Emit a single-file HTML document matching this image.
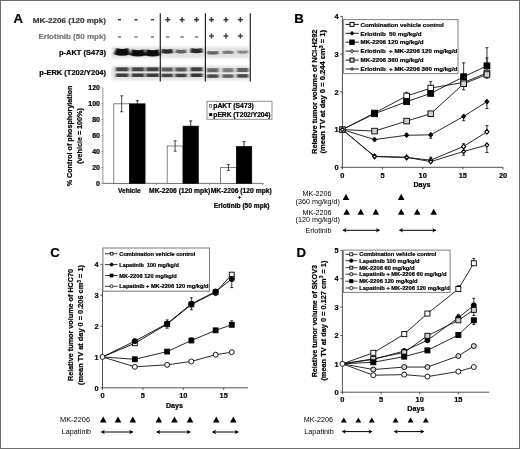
<!DOCTYPE html>
<html><head><meta charset="utf-8"><title>Figure</title>
<style>
html,body{margin:0;padding:0;background:#fff;}
body{width:520px;height:449px;overflow:hidden;position:relative;font-family:"Liberation Sans",Arial,sans-serif;}
#frame{position:absolute;left:0;top:0;width:518px;height:447px;border:1px solid #6e6e6e;}
svg{position:absolute;left:0;top:0;display:block;filter:blur(0.35px);}
svg text{font-family:"Liberation Sans",Arial,sans-serif;}
</style></head><body>
<svg width="520" height="449" viewBox="0 0 520 449">
<defs>
<filter id="b1" x="-5%" y="-20%" width="110%" height="140%"><feGaussianBlur stdDeviation="0.8"/></filter>
<filter id="b2" x="-5%" y="-20%" width="110%" height="140%"><feGaussianBlur stdDeviation="1.0 0.75"/></filter>
</defs>
<text x="13.60" y="23.20" font-size="13.2" text-anchor="start" fill="#000" font-weight="bold" stroke="#000" stroke-width="0.22" >A</text>
<text x="106.00" y="22.80" font-size="8.1" text-anchor="end" fill="#3a3a3a" font-weight="bold" stroke="#3a3a3a" stroke-width="0.22" >MK-2206 (120 mpk)</text>
<text x="106.00" y="38.50" font-size="8.0" text-anchor="end" fill="#747474" font-weight="bold" stroke="#747474" stroke-width="0.22" >Erlotinib (50 mpk)</text>
<text x="106.00" y="55.40" font-size="7.5" text-anchor="end" fill="#000" font-weight="bold" stroke="#000" stroke-width="0.22" >p-AKT (S473)</text>
<text x="106.00" y="75.30" font-size="7.5" text-anchor="end" fill="#000" font-weight="bold" stroke="#000" stroke-width="0.22" >p-ERK (T202/Y204)</text>
<line x1="117.90" y1="19.70" x2="121.10" y2="19.70" stroke="#3a3a3a" stroke-width="1.5" />
<line x1="117.90" y1="37.00" x2="121.10" y2="37.00" stroke="#747474" stroke-width="1.5" />
<line x1="134.40" y1="19.70" x2="137.60" y2="19.70" stroke="#3a3a3a" stroke-width="1.5" />
<line x1="134.40" y1="37.00" x2="137.60" y2="37.00" stroke="#747474" stroke-width="1.5" />
<line x1="150.80" y1="19.70" x2="154.00" y2="19.70" stroke="#3a3a3a" stroke-width="1.5" />
<line x1="150.80" y1="37.00" x2="154.00" y2="37.00" stroke="#747474" stroke-width="1.5" />
<line x1="165.20" y1="19.70" x2="170.20" y2="19.70" stroke="#3a3a3a" stroke-width="1.5" />
<line x1="167.70" y1="17.20" x2="167.70" y2="22.20" stroke="#3a3a3a" stroke-width="1.5" />
<line x1="166.10" y1="37.00" x2="169.30" y2="37.00" stroke="#747474" stroke-width="1.5" />
<line x1="179.60" y1="19.70" x2="184.60" y2="19.70" stroke="#3a3a3a" stroke-width="1.5" />
<line x1="182.10" y1="17.20" x2="182.10" y2="22.20" stroke="#3a3a3a" stroke-width="1.5" />
<line x1="180.50" y1="37.00" x2="183.70" y2="37.00" stroke="#747474" stroke-width="1.5" />
<line x1="194.00" y1="19.70" x2="199.00" y2="19.70" stroke="#3a3a3a" stroke-width="1.5" />
<line x1="196.50" y1="17.20" x2="196.50" y2="22.20" stroke="#3a3a3a" stroke-width="1.5" />
<line x1="194.90" y1="37.00" x2="198.10" y2="37.00" stroke="#747474" stroke-width="1.5" />
<line x1="209.00" y1="19.70" x2="214.00" y2="19.70" stroke="#3a3a3a" stroke-width="1.5" />
<line x1="211.50" y1="17.20" x2="211.50" y2="22.20" stroke="#3a3a3a" stroke-width="1.5" />
<line x1="209.00" y1="36.00" x2="214.00" y2="36.00" stroke="#444" stroke-width="1.5" />
<line x1="211.50" y1="33.50" x2="211.50" y2="38.50" stroke="#444" stroke-width="1.5" />
<line x1="223.50" y1="19.70" x2="228.50" y2="19.70" stroke="#3a3a3a" stroke-width="1.5" />
<line x1="226.00" y1="17.20" x2="226.00" y2="22.20" stroke="#3a3a3a" stroke-width="1.5" />
<line x1="223.50" y1="36.00" x2="228.50" y2="36.00" stroke="#444" stroke-width="1.5" />
<line x1="226.00" y1="33.50" x2="226.00" y2="38.50" stroke="#444" stroke-width="1.5" />
<line x1="237.90" y1="19.70" x2="242.90" y2="19.70" stroke="#3a3a3a" stroke-width="1.5" />
<line x1="240.40" y1="17.20" x2="240.40" y2="22.20" stroke="#3a3a3a" stroke-width="1.5" />
<line x1="237.90" y1="36.00" x2="242.90" y2="36.00" stroke="#444" stroke-width="1.5" />
<line x1="240.40" y1="33.50" x2="240.40" y2="38.50" stroke="#444" stroke-width="1.5" />
<g filter="url(#b1)">
<rect x="111.50" y="46.60" width="137.50" height="11.60" fill="#e3e3e3" stroke="none" stroke-width="0" />
<rect x="111.50" y="65.80" width="137.50" height="14.40" fill="#e1e1e1" stroke="none" stroke-width="0" />
</g>
<g filter="url(#b2)" fill="none" stroke-linecap="butt">
<path d="M115.2,51.10 Q122.2,53.80 129.2,51.10" stroke="#0a0a0a" stroke-width="6.8"/>
<path d="M131.1,52.25 Q138.0,54.50 144.9,52.25" stroke="#101010" stroke-width="6.2"/>
<path d="M145.7,52.25 Q152.6,54.50 159.5,52.25" stroke="#0d0d0d" stroke-width="6.2"/>
<path d="M161.6,50.90 Q167.2,52.40 172.8,50.90" stroke="#2a2a2a" stroke-width="4.2"/>
<path d="M175.6,51.10 Q181.0,52.60 186.4,51.10" stroke="#646464" stroke-width="3.6"/>
<path d="M190.5,50.30 Q196.5,51.80 202.5,50.30" stroke="#2c2c2c" stroke-width="4.6"/>
<path d="M207.2,52.30 Q212.8,53.80 218.4,52.30" stroke="#666" stroke-width="3.4"/>
<path d="M222.6,52.80 Q228.0,51.60 233.4,52.80" stroke="#7c7c7c" stroke-width="3.2"/>
<path d="M237.4,51.70 Q242.6,52.60 247.8,51.70" stroke="#888" stroke-width="3.0"/>
<path d="M115.8,69.3 L128.6,69.3" stroke="#444" stroke-width="4.0"/>
<path d="M115.8,75.2 L128.6,75.2" stroke="#3a3a3a" stroke-width="3.5"/>
<path d="M131.6,69.3 L144.4,69.3" stroke="#444" stroke-width="4.0"/>
<path d="M131.6,75.2 L144.4,75.2" stroke="#3a3a3a" stroke-width="3.5"/>
<path d="M146.2,69.3 L159.0,69.3" stroke="#404040" stroke-width="4.0"/>
<path d="M146.2,75.2 L159.0,75.2" stroke="#383838" stroke-width="3.5"/>
<path d="M161.4,69.5 L173.0,69.5" stroke="#5a5a5a" stroke-width="4.0"/>
<path d="M161.4,75.4 L173.0,75.4" stroke="#444" stroke-width="3.5"/>
<path d="M175.2,69.5 L186.8,69.5" stroke="#555" stroke-width="4.0"/>
<path d="M175.2,75.4 L186.8,75.4" stroke="#404040" stroke-width="3.5"/>
<path d="M190.5,69.3 L202.5,69.3" stroke="#3c3c3c" stroke-width="4.0"/>
<path d="M190.5,75.2 L202.5,75.2" stroke="#333" stroke-width="3.5"/>
<path d="M207.0,70.2 L218.6,70.2" stroke="#666" stroke-width="4.0"/>
<path d="M207.0,76.1 L218.6,76.1" stroke="#484848" stroke-width="3.5"/>
<path d="M222.4,70.2 L233.6,70.2" stroke="#7a7a7a" stroke-width="4.0"/>
<path d="M222.4,76.1 L233.6,76.1" stroke="#5c5c5c" stroke-width="3.5"/>
<path d="M236.8,70.0 L248.4,70.0" stroke="#606060" stroke-width="4.0"/>
<path d="M236.8,75.9 L248.4,75.9" stroke="#484848" stroke-width="3.5"/>
</g>
<line x1="160.30" y1="13.20" x2="160.30" y2="81.40" stroke="#222" stroke-width="1.2" />
<line x1="205.40" y1="13.20" x2="205.40" y2="81.40" stroke="#222" stroke-width="1.2" />
<line x1="250.30" y1="13.20" x2="250.30" y2="81.40" stroke="#222" stroke-width="1.2" />
<line x1="102.90" y1="87.88" x2="102.90" y2="183.40" stroke="#808080" stroke-width="0.8" />
<line x1="102.90" y1="183.40" x2="263.50" y2="183.40" stroke="#555" stroke-width="0.8" />
<line x1="101.40" y1="183.40" x2="102.90" y2="183.40" stroke="#808080" stroke-width="0.8" />
<text x="100.00" y="185.90" font-size="7.0" text-anchor="end" fill="#000" font-weight="bold" stroke="#000" stroke-width="0.22" >0</text>
<line x1="101.40" y1="167.48" x2="102.90" y2="167.48" stroke="#808080" stroke-width="0.8" />
<text x="100.00" y="169.98" font-size="7.0" text-anchor="end" fill="#000" font-weight="bold" stroke="#000" stroke-width="0.22" >20</text>
<line x1="101.40" y1="151.56" x2="102.90" y2="151.56" stroke="#808080" stroke-width="0.8" />
<text x="100.00" y="154.06" font-size="7.0" text-anchor="end" fill="#000" font-weight="bold" stroke="#000" stroke-width="0.22" >40</text>
<line x1="101.40" y1="135.64" x2="102.90" y2="135.64" stroke="#808080" stroke-width="0.8" />
<text x="100.00" y="138.14" font-size="7.0" text-anchor="end" fill="#000" font-weight="bold" stroke="#000" stroke-width="0.22" >60</text>
<line x1="101.40" y1="119.72" x2="102.90" y2="119.72" stroke="#808080" stroke-width="0.8" />
<text x="100.00" y="122.22" font-size="7.0" text-anchor="end" fill="#000" font-weight="bold" stroke="#000" stroke-width="0.22" >80</text>
<line x1="101.40" y1="103.80" x2="102.90" y2="103.80" stroke="#808080" stroke-width="0.8" />
<text x="100.00" y="106.30" font-size="7.0" text-anchor="end" fill="#000" font-weight="bold" stroke="#000" stroke-width="0.22" >100</text>
<line x1="101.40" y1="87.88" x2="102.90" y2="87.88" stroke="#808080" stroke-width="0.8" />
<text x="100.00" y="90.38" font-size="7.0" text-anchor="end" fill="#000" font-weight="bold" stroke="#000" stroke-width="0.22" >120</text>
<line x1="156.30" y1="183.40" x2="156.30" y2="184.90" stroke="#666" stroke-width="0.8" />
<line x1="209.50" y1="183.40" x2="209.50" y2="184.90" stroke="#666" stroke-width="0.8" />
<line x1="262.80" y1="183.40" x2="262.80" y2="184.90" stroke="#666" stroke-width="0.8" />
<rect x="113.80" y="103.80" width="15.70" height="79.60" fill="#fff" stroke="#666" stroke-width="0.8" />
<rect x="129.50" y="103.80" width="15.60" height="79.60" fill="#000" stroke="#000" stroke-width="0.6" />
<line x1="121.65" y1="95.84" x2="121.65" y2="111.76" stroke="#000" stroke-width="0.7" />
<line x1="120.15" y1="95.84" x2="123.15" y2="95.84" stroke="#000" stroke-width="0.7" />
<line x1="120.15" y1="111.76" x2="123.15" y2="111.76" stroke="#000" stroke-width="0.7" />
<line x1="137.30" y1="100.62" x2="137.30" y2="103.80" stroke="#000" stroke-width="0.8" />
<line x1="135.80" y1="100.62" x2="138.80" y2="100.62" stroke="#000" stroke-width="0.8" />
<rect x="167.20" y="145.99" width="15.80" height="37.41" fill="#fff" stroke="#666" stroke-width="0.8" />
<rect x="183.00" y="126.09" width="15.40" height="57.31" fill="#000" stroke="#000" stroke-width="0.6" />
<line x1="175.10" y1="140.81" x2="175.10" y2="151.16" stroke="#000" stroke-width="0.7" />
<line x1="173.60" y1="140.81" x2="176.60" y2="140.81" stroke="#000" stroke-width="0.7" />
<line x1="173.60" y1="151.16" x2="176.60" y2="151.16" stroke="#000" stroke-width="0.7" />
<line x1="190.70" y1="120.91" x2="190.70" y2="126.09" stroke="#000" stroke-width="0.8" />
<line x1="189.20" y1="120.91" x2="192.20" y2="120.91" stroke="#000" stroke-width="0.8" />
<rect x="220.60" y="167.48" width="15.70" height="15.92" fill="#fff" stroke="#666" stroke-width="0.8" />
<rect x="236.30" y="146.39" width="15.50" height="37.01" fill="#000" stroke="#000" stroke-width="0.6" />
<line x1="228.45" y1="164.53" x2="228.45" y2="170.43" stroke="#000" stroke-width="0.7" />
<line x1="226.95" y1="164.53" x2="229.95" y2="164.53" stroke="#000" stroke-width="0.7" />
<line x1="226.95" y1="170.43" x2="229.95" y2="170.43" stroke="#000" stroke-width="0.7" />
<line x1="244.05" y1="141.61" x2="244.05" y2="146.39" stroke="#000" stroke-width="0.8" />
<line x1="242.55" y1="141.61" x2="245.55" y2="141.61" stroke="#000" stroke-width="0.8" />
<text x="72.50" y="135.90" font-size="7.2" font-weight="bold" stroke="#000" stroke-width="0.22" text-anchor="middle" textLength="100.80" lengthAdjust="spacingAndGlyphs" transform="rotate(-90 72.50 135.90)">% Control of phosphorylation</text>
<text x="82.20" y="136.00" font-size="7.25" font-weight="bold" stroke="#000" stroke-width="0.22" text-anchor="middle" textLength="55.70" lengthAdjust="spacingAndGlyphs" transform="rotate(-90 82.20 136.00)">(vehicle = 100%)</text>
<text x="129.40" y="192.50" font-size="6.6" text-anchor="middle" fill="#000" font-weight="bold" stroke="#000" stroke-width="0.22" >Vehicle</text>
<text x="179.60" y="193.20" font-size="6.75" text-anchor="middle" fill="#000" font-weight="bold" stroke="#000" stroke-width="0.22" >MK-2206 (120 mpk)</text>
<text x="241.30" y="193.20" font-size="6.75" text-anchor="middle" fill="#000" font-weight="bold" stroke="#000" stroke-width="0.22" >MK-2206 (120 mpk)</text>
<text x="239.50" y="199.20" font-size="6" text-anchor="middle" fill="#000" font-weight="bold" stroke="#000" stroke-width="0.22" >+</text>
<text x="241.70" y="207.80" font-size="6.6" text-anchor="middle" fill="#000" font-weight="bold" stroke="#000" stroke-width="0.22" >Erlotinib (50 mpk)</text>
<rect x="207.00" y="101.30" width="65.00" height="18.00" fill="#fff" stroke="#858585" stroke-width="0.9" />
<rect x="209.40" y="104.70" width="2.40" height="2.40" fill="#fff" stroke="#222" stroke-width="0.6" />
<rect x="209.40" y="113.30" width="2.60" height="2.60" fill="#000" stroke="#000" stroke-width="0.4" />
<text x="213.30" y="108.10" font-size="6.8" text-anchor="start" fill="#000" font-weight="bold" stroke="#000" stroke-width="0.22" >pAKT (S473)</text>
<text x="213.30" y="117.00" font-size="6.7" text-anchor="start" fill="#000" font-weight="bold" stroke="#000" stroke-width="0.22" >pERK (T202/Y204)</text>
<text x="294.20" y="22.90" font-size="13.2" text-anchor="start" fill="#000" font-weight="bold" stroke="#000" stroke-width="0.22" >B</text>
<line x1="342.40" y1="16.42" x2="342.40" y2="167.30" stroke="#333" stroke-width="0.85" />
<line x1="342.40" y1="167.30" x2="503.00" y2="167.30" stroke="#333" stroke-width="0.85" />
<line x1="340.40" y1="167.30" x2="342.40" y2="167.30" stroke="#222" stroke-width="0.8" />
<text x="338.60" y="170.10" font-size="7.4" text-anchor="end" fill="#000" font-weight="bold" stroke="#000" stroke-width="0.22" >0</text>
<line x1="340.40" y1="129.58" x2="342.40" y2="129.58" stroke="#222" stroke-width="0.8" />
<text x="338.60" y="132.38" font-size="7.4" text-anchor="end" fill="#000" font-weight="bold" stroke="#000" stroke-width="0.22" >1</text>
<line x1="340.40" y1="91.86" x2="342.40" y2="91.86" stroke="#222" stroke-width="0.8" />
<text x="338.60" y="94.66" font-size="7.4" text-anchor="end" fill="#000" font-weight="bold" stroke="#000" stroke-width="0.22" >2</text>
<line x1="340.40" y1="54.14" x2="342.40" y2="54.14" stroke="#222" stroke-width="0.8" />
<text x="338.60" y="56.94" font-size="7.4" text-anchor="end" fill="#000" font-weight="bold" stroke="#000" stroke-width="0.22" >3</text>
<line x1="340.40" y1="16.42" x2="342.40" y2="16.42" stroke="#222" stroke-width="0.8" />
<text x="338.60" y="19.22" font-size="7.4" text-anchor="end" fill="#000" font-weight="bold" stroke="#000" stroke-width="0.22" >4</text>
<line x1="342.40" y1="167.30" x2="342.40" y2="169.30" stroke="#222" stroke-width="0.8" />
<text x="342.40" y="177.80" font-size="7.4" text-anchor="middle" fill="#000" font-weight="bold" stroke="#000" stroke-width="0.22" >0</text>
<line x1="382.55" y1="167.30" x2="382.55" y2="169.30" stroke="#222" stroke-width="0.8" />
<text x="382.55" y="177.80" font-size="7.4" text-anchor="middle" fill="#000" font-weight="bold" stroke="#000" stroke-width="0.22" >5</text>
<line x1="422.70" y1="167.30" x2="422.70" y2="169.30" stroke="#222" stroke-width="0.8" />
<text x="422.70" y="177.80" font-size="7.4" text-anchor="middle" fill="#000" font-weight="bold" stroke="#000" stroke-width="0.22" >10</text>
<line x1="462.85" y1="167.30" x2="462.85" y2="169.30" stroke="#222" stroke-width="0.8" />
<text x="462.85" y="177.80" font-size="7.4" text-anchor="middle" fill="#000" font-weight="bold" stroke="#000" stroke-width="0.22" >15</text>
<line x1="503.00" y1="167.30" x2="503.00" y2="169.30" stroke="#222" stroke-width="0.8" />
<text x="503.00" y="177.80" font-size="7.4" text-anchor="middle" fill="#000" font-weight="bold" stroke="#000" stroke-width="0.22" >20</text>
<line x1="430.73" y1="88.09" x2="430.73" y2="81.68" stroke="#000" stroke-width="0.8" />
<line x1="429.23" y1="81.68" x2="432.23" y2="81.68" stroke="#000" stroke-width="0.8" />
<line x1="406.64" y1="96.01" x2="406.64" y2="92.24" stroke="#000" stroke-width="0.8" />
<line x1="405.14" y1="92.24" x2="408.14" y2="92.24" stroke="#000" stroke-width="0.8" />
<line x1="486.94" y1="73.00" x2="486.94" y2="57.91" stroke="#000" stroke-width="0.8" />
<line x1="485.44" y1="57.91" x2="488.44" y2="57.91" stroke="#000" stroke-width="0.8" />
<polyline points="342.40,129.58 374.52,112.98 406.64,96.01 430.73,88.09 463.65,82.43 486.94,73.00" fill="none" stroke="#111" stroke-width="0.9"/>
<rect x="371.72" y="110.18" width="5.60" height="5.60" fill="#fff" stroke="#000" stroke-width="0.9" />
<rect x="403.84" y="93.21" width="5.60" height="5.60" fill="#fff" stroke="#000" stroke-width="0.9" />
<rect x="427.93" y="85.29" width="5.60" height="5.60" fill="#fff" stroke="#000" stroke-width="0.9" />
<rect x="460.85" y="79.63" width="5.60" height="5.60" fill="#fff" stroke="#000" stroke-width="0.9" />
<rect x="484.14" y="70.20" width="5.60" height="5.60" fill="#fff" stroke="#000" stroke-width="0.9" />
<line x1="486.94" y1="101.67" x2="486.94" y2="108.46" stroke="#000" stroke-width="0.8" />
<line x1="485.44" y1="108.46" x2="488.44" y2="108.46" stroke="#000" stroke-width="0.8" />
<line x1="463.65" y1="116.38" x2="463.65" y2="120.72" stroke="#000" stroke-width="0.8" />
<line x1="462.15" y1="120.72" x2="465.15" y2="120.72" stroke="#000" stroke-width="0.8" />
<line x1="430.73" y1="134.86" x2="430.73" y2="138.26" stroke="#000" stroke-width="0.8" />
<line x1="429.23" y1="138.26" x2="432.23" y2="138.26" stroke="#000" stroke-width="0.8" />
<line x1="406.64" y1="135.24" x2="406.64" y2="133.35" stroke="#000" stroke-width="0.8" />
<line x1="405.14" y1="133.35" x2="408.14" y2="133.35" stroke="#000" stroke-width="0.8" />
<polyline points="342.40,129.58 374.52,139.58 406.64,135.24 430.73,134.86 463.65,116.38 486.94,101.67" fill="none" stroke="#111" stroke-width="0.9"/>
<polygon points="374.52,137.08 376.64,139.58 374.52,142.08 372.39,139.58" fill="#000" stroke="#000" stroke-width="0.9"/>
<polygon points="406.64,132.74 408.76,135.24 406.64,137.74 404.51,135.24" fill="#000" stroke="#000" stroke-width="0.9"/>
<polygon points="430.73,132.36 432.85,134.86 430.73,137.36 428.60,134.86" fill="#000" stroke="#000" stroke-width="0.9"/>
<polygon points="463.65,113.88 465.78,116.38 463.65,118.88 461.53,116.38" fill="#000" stroke="#000" stroke-width="0.9"/>
<polygon points="486.94,99.17 489.06,101.67 486.94,104.17 484.81,101.67" fill="#000" stroke="#000" stroke-width="0.9"/>
<line x1="486.94" y1="65.83" x2="486.94" y2="47.73" stroke="#000" stroke-width="0.8" />
<line x1="485.44" y1="47.73" x2="488.44" y2="47.73" stroke="#000" stroke-width="0.8" />
<line x1="463.65" y1="76.77" x2="463.65" y2="62.82" stroke="#000" stroke-width="0.8" />
<line x1="462.15" y1="62.82" x2="465.15" y2="62.82" stroke="#000" stroke-width="0.8" />
<polyline points="342.40,129.58 374.52,113.74 406.64,101.67 430.73,93.37 463.65,76.77 486.94,65.83" fill="none" stroke="#111" stroke-width="0.9"/>
<rect x="371.57" y="110.79" width="5.90" height="5.90" fill="#000" stroke="#000" stroke-width="0.9" />
<rect x="403.69" y="98.72" width="5.90" height="5.90" fill="#000" stroke="#000" stroke-width="0.9" />
<rect x="427.78" y="90.42" width="5.90" height="5.90" fill="#000" stroke="#000" stroke-width="0.9" />
<rect x="460.70" y="73.82" width="5.90" height="5.90" fill="#000" stroke="#000" stroke-width="0.9" />
<rect x="483.99" y="62.88" width="5.90" height="5.90" fill="#000" stroke="#000" stroke-width="0.9" />
<line x1="486.94" y1="131.84" x2="486.94" y2="125.62" stroke="#000" stroke-width="0.8" />
<line x1="485.44" y1="125.62" x2="488.44" y2="125.62" stroke="#000" stroke-width="0.8" />
<line x1="463.65" y1="146.40" x2="463.65" y2="143.76" stroke="#000" stroke-width="0.8" />
<line x1="462.15" y1="143.76" x2="465.15" y2="143.76" stroke="#000" stroke-width="0.8" />
<line x1="430.73" y1="160.13" x2="430.73" y2="157.12" stroke="#000" stroke-width="0.8" />
<line x1="429.23" y1="157.12" x2="432.23" y2="157.12" stroke="#000" stroke-width="0.8" />
<polyline points="342.40,129.58 374.52,156.55 406.64,157.49 430.73,160.13 463.65,146.40 486.94,131.84" fill="none" stroke="#111" stroke-width="0.9"/>
<polygon points="374.52,154.15 376.56,156.55 374.52,158.95 372.48,156.55" fill="#fff" stroke="#000" stroke-width="1.1"/>
<polygon points="406.64,155.09 408.68,157.49 406.64,159.89 404.60,157.49" fill="#fff" stroke="#000" stroke-width="1.1"/>
<polygon points="430.73,157.73 432.77,160.13 430.73,162.53 428.69,160.13" fill="#fff" stroke="#000" stroke-width="1.1"/>
<polygon points="463.65,144.00 465.69,146.40 463.65,148.80 461.61,146.40" fill="#fff" stroke="#000" stroke-width="1.1"/>
<polygon points="486.94,129.44 488.98,131.84 486.94,134.24 484.90,131.84" fill="#fff" stroke="#000" stroke-width="1.1"/>
<line x1="463.65" y1="83.75" x2="463.65" y2="89.79" stroke="#000" stroke-width="0.8" />
<line x1="462.15" y1="89.79" x2="465.15" y2="89.79" stroke="#000" stroke-width="0.8" />
<line x1="486.94" y1="74.51" x2="486.94" y2="78.28" stroke="#000" stroke-width="0.8" />
<line x1="485.44" y1="78.28" x2="488.44" y2="78.28" stroke="#000" stroke-width="0.8" />
<polyline points="342.40,129.58 374.52,131.09 406.64,121.09 430.73,113.74 463.65,83.75 486.94,74.51" fill="none" stroke="#111" stroke-width="0.9"/>
<rect x="339.60" y="126.78" width="5.60" height="5.60" fill="#d0d0d0" stroke="#000" stroke-width="0.9" />
<rect x="371.72" y="128.29" width="5.60" height="5.60" fill="#d0d0d0" stroke="#000" stroke-width="0.9" />
<rect x="403.84" y="118.29" width="5.60" height="5.60" fill="#d0d0d0" stroke="#000" stroke-width="0.9" />
<rect x="427.93" y="110.94" width="5.60" height="5.60" fill="#d0d0d0" stroke="#000" stroke-width="0.9" />
<rect x="460.85" y="80.95" width="5.60" height="5.60" fill="#d0d0d0" stroke="#000" stroke-width="0.9" />
<rect x="484.14" y="71.71" width="5.60" height="5.60" fill="#d0d0d0" stroke="#000" stroke-width="0.9" />
<line x1="486.94" y1="145.05" x2="486.94" y2="152.59" stroke="#000" stroke-width="0.8" />
<line x1="485.44" y1="152.59" x2="488.44" y2="152.59" stroke="#000" stroke-width="0.8" />
<line x1="463.65" y1="151.46" x2="463.65" y2="155.23" stroke="#000" stroke-width="0.8" />
<line x1="462.15" y1="155.23" x2="465.15" y2="155.23" stroke="#000" stroke-width="0.8" />
<polyline points="342.40,129.58 374.52,156.36 406.64,157.30 430.73,161.64 463.65,151.46 486.94,145.05" fill="none" stroke="#111" stroke-width="0.9"/>
<polygon points="342.40,127.43 344.23,129.58 342.40,131.73 340.57,129.58" fill="#fff" stroke="#000" stroke-width="1.1"/>
<polygon points="374.52,154.21 376.35,156.36 374.52,158.51 372.69,156.36" fill="#fff" stroke="#000" stroke-width="1.1"/>
<polygon points="406.64,155.15 408.47,157.30 406.64,159.45 404.81,157.30" fill="#fff" stroke="#000" stroke-width="1.1"/>
<polygon points="430.73,159.49 432.56,161.64 430.73,163.79 428.90,161.64" fill="#fff" stroke="#000" stroke-width="1.1"/>
<polygon points="463.65,149.31 465.48,151.46 463.65,153.61 461.83,151.46" fill="#fff" stroke="#000" stroke-width="1.1"/>
<polygon points="486.94,142.90 488.77,145.05 486.94,147.20 485.11,145.05" fill="#fff" stroke="#000" stroke-width="1.1"/>
<text x="422.00" y="187.20" font-size="7.2" text-anchor="middle" fill="#000" font-weight="bold" stroke="#000" stroke-width="0.22" >Days</text>
<text x="317.20" y="91.75" font-size="7.45" font-weight="bold" stroke="#000" stroke-width="0.22" text-anchor="middle" textLength="124.50" lengthAdjust="spacingAndGlyphs" transform="rotate(-90 317.20 91.75)">Relative tumor volume of NCI-H292</text>
<text x="325.40" y="91.70" font-size="7.45" font-weight="bold" stroke="#000" stroke-width="0.22" text-anchor="middle" textLength="123.40" lengthAdjust="spacingAndGlyphs" transform="rotate(-90 325.40 91.70)">(mean TV at day 0 = 0.244 cm<tspan dy="-2.4" font-size="5">3</tspan><tspan dy="2.4"> = 1)</tspan></text>
<rect x="343.60" y="19.60" width="114.40" height="54.00" fill="#fff" stroke="#808080" stroke-width="1" />
<line x1="345.50" y1="24.40" x2="358.80" y2="24.40" stroke="#000" stroke-width="0.9" />
<rect x="350.00" y="22.40" width="4.00" height="4.00" fill="#fff" stroke="#000" stroke-width="1.0" />
<text x="360.60" y="26.60" font-size="6.2" text-anchor="start" fill="#000" font-weight="bold" stroke="#000" stroke-width="0.22" xml:space="preserve">Combination vehicle control</text>
<line x1="345.50" y1="33.30" x2="358.80" y2="33.30" stroke="#000" stroke-width="0.9" />
<polygon points="352.00,31.40 353.62,33.30 352.00,35.20 350.38,33.30" fill="#000" stroke="#000" stroke-width="1.0"/>
<text x="360.60" y="35.50" font-size="6.2" text-anchor="start" fill="#000" font-weight="bold" stroke="#000" stroke-width="0.22" xml:space="preserve">Erlotinib  50 mg/kg/d</text>
<line x1="345.50" y1="42.20" x2="358.80" y2="42.20" stroke="#000" stroke-width="0.9" />
<rect x="349.80" y="40.00" width="4.40" height="4.40" fill="#000" stroke="#000" stroke-width="1.0" />
<text x="360.60" y="44.40" font-size="6.2" text-anchor="start" fill="#000" font-weight="bold" stroke="#000" stroke-width="0.22" xml:space="preserve">MK-2206 120 mg/kg/d</text>
<line x1="345.50" y1="51.10" x2="358.80" y2="51.10" stroke="#000" stroke-width="0.9" />
<polygon points="352.00,49.30 353.53,51.10 352.00,52.90 350.47,51.10" fill="#fff" stroke="#000" stroke-width="1.0"/>
<text x="360.60" y="53.30" font-size="6.2" text-anchor="start" fill="#000" font-weight="bold" stroke="#000" stroke-width="0.22" xml:space="preserve">Erlotinib  + MK-2206 120 mg/kg/d</text>
<line x1="345.50" y1="60.10" x2="358.80" y2="60.10" stroke="#000" stroke-width="0.9" />
<rect x="350.00" y="58.10" width="4.00" height="4.00" fill="#d0d0d0" stroke="#000" stroke-width="1.0" />
<text x="360.60" y="62.30" font-size="6.2" text-anchor="start" fill="#000" font-weight="bold" stroke="#000" stroke-width="0.22" xml:space="preserve">MK-2206 360 mg/kg/d</text>
<line x1="345.50" y1="69.00" x2="358.80" y2="69.00" stroke="#000" stroke-width="0.9" />
<polygon points="352.00,67.50 353.27,69.00 352.00,70.50 350.73,69.00" fill="#fff" stroke="#000" stroke-width="1.0"/>
<text x="360.60" y="71.20" font-size="6.2" text-anchor="start" fill="#000" font-weight="bold" stroke="#000" stroke-width="0.22" xml:space="preserve">Erlotinib  + MK-2206 360 mg/kg/d</text>
<text x="317.00" y="196.40" font-size="7.2" text-anchor="middle" fill="#000" >MK-2206</text>
<text x="317.70" y="204.20" font-size="7.2" text-anchor="middle" fill="#000" >(360 mg/kg/d)</text>
<text x="317.00" y="214.60" font-size="7.2" text-anchor="middle" fill="#000" >MK-2206</text>
<text x="317.70" y="222.40" font-size="7.2" text-anchor="middle" fill="#000" >(120 mg/kg/d)</text>
<text x="318.40" y="232.60" font-size="7.2" text-anchor="middle" fill="#000" >Erlotinib</text>
<polygon points="346.00,193.80 349.30,200.00 342.70,200.00" fill="#000" stroke="none" stroke-width="1"/>
<polygon points="401.20,193.80 404.50,200.00 397.90,200.00" fill="#000" stroke="none" stroke-width="1"/>
<polygon points="346.70,208.80 350.00,214.80 343.40,214.80" fill="#000" stroke="none" stroke-width="1"/>
<polygon points="360.80,208.80 364.10,214.80 357.50,214.80" fill="#000" stroke="none" stroke-width="1"/>
<polygon points="375.80,208.80 379.10,214.80 372.50,214.80" fill="#000" stroke="none" stroke-width="1"/>
<polygon points="401.20,208.80 404.50,214.80 397.90,214.80" fill="#000" stroke="none" stroke-width="1"/>
<polygon points="417.20,208.80 420.50,214.80 413.90,214.80" fill="#000" stroke="none" stroke-width="1"/>
<polygon points="433.70,208.80 437.00,214.80 430.40,214.80" fill="#000" stroke="none" stroke-width="1"/>
<line x1="343.00" y1="230.30" x2="379.50" y2="230.30" stroke="#000" stroke-width="1.0" />
<polygon points="342.50,230.30 346.50,228.10 345.50,230.30 346.50,232.50" fill="#000" stroke="none" stroke-width="1"/>
<polygon points="380.00,230.30 376.00,228.10 377.00,230.30 376.00,232.50" fill="#000" stroke="none" stroke-width="1"/>
<line x1="399.50" y1="230.30" x2="435.80" y2="230.30" stroke="#000" stroke-width="1.0" />
<polygon points="399.00,230.30 403.00,228.10 402.00,230.30 403.00,232.50" fill="#000" stroke="none" stroke-width="1"/>
<polygon points="436.30,230.30 432.30,228.10 433.30,230.30 432.30,232.50" fill="#000" stroke="none" stroke-width="1"/>
<text x="50.20" y="256.80" font-size="13.2" text-anchor="start" fill="#000" font-weight="bold" stroke="#000" stroke-width="0.22" >C</text>
<line x1="102.50" y1="264.40" x2="102.50" y2="387.80" stroke="#333" stroke-width="0.85" />
<line x1="102.50" y1="387.80" x2="247.94" y2="387.80" stroke="#333" stroke-width="0.85" />
<line x1="100.50" y1="387.80" x2="102.50" y2="387.80" stroke="#222" stroke-width="0.8" />
<text x="98.70" y="390.50" font-size="7.4" text-anchor="end" fill="#000" font-weight="bold" stroke="#000" stroke-width="0.22" >0</text>
<line x1="100.50" y1="356.95" x2="102.50" y2="356.95" stroke="#222" stroke-width="0.8" />
<text x="98.70" y="359.65" font-size="7.4" text-anchor="end" fill="#000" font-weight="bold" stroke="#000" stroke-width="0.22" >1</text>
<line x1="100.50" y1="326.10" x2="102.50" y2="326.10" stroke="#222" stroke-width="0.8" />
<text x="98.70" y="328.80" font-size="7.4" text-anchor="end" fill="#000" font-weight="bold" stroke="#000" stroke-width="0.22" >2</text>
<line x1="100.50" y1="295.25" x2="102.50" y2="295.25" stroke="#222" stroke-width="0.8" />
<text x="98.70" y="297.95" font-size="7.4" text-anchor="end" fill="#000" font-weight="bold" stroke="#000" stroke-width="0.22" >3</text>
<line x1="100.50" y1="264.40" x2="102.50" y2="264.40" stroke="#222" stroke-width="0.8" />
<text x="98.70" y="267.10" font-size="7.4" text-anchor="end" fill="#000" font-weight="bold" stroke="#000" stroke-width="0.22" >4</text>
<line x1="102.50" y1="387.80" x2="102.50" y2="389.80" stroke="#222" stroke-width="0.8" />
<text x="102.50" y="397.60" font-size="7.4" text-anchor="middle" fill="#000" font-weight="bold" stroke="#000" stroke-width="0.22" >0</text>
<line x1="142.90" y1="387.80" x2="142.90" y2="389.80" stroke="#222" stroke-width="0.8" />
<text x="142.90" y="397.60" font-size="7.4" text-anchor="middle" fill="#000" font-weight="bold" stroke="#000" stroke-width="0.22" >5</text>
<line x1="183.30" y1="387.80" x2="183.30" y2="389.80" stroke="#222" stroke-width="0.8" />
<text x="183.30" y="397.60" font-size="7.4" text-anchor="middle" fill="#000" font-weight="bold" stroke="#000" stroke-width="0.22" >10</text>
<line x1="223.70" y1="387.80" x2="223.70" y2="389.80" stroke="#222" stroke-width="0.8" />
<text x="223.70" y="397.60" font-size="7.4" text-anchor="middle" fill="#000" font-weight="bold" stroke="#000" stroke-width="0.22" >15</text>
<polyline points="102.50,356.95 134.82,343.28 167.14,324.19 191.38,304.50 215.62,292.20 231.78,274.64" fill="none" stroke="#111" stroke-width="0.95"/>
<rect x="132.37" y="340.83" width="4.90" height="4.90" fill="#fff" stroke="#000" stroke-width="0.9" />
<rect x="164.69" y="321.74" width="4.90" height="4.90" fill="#fff" stroke="#000" stroke-width="0.9" />
<rect x="188.93" y="302.06" width="4.90" height="4.90" fill="#fff" stroke="#000" stroke-width="0.9" />
<rect x="213.17" y="289.75" width="4.90" height="4.90" fill="#fff" stroke="#000" stroke-width="0.9" />
<rect x="229.33" y="272.19" width="4.90" height="4.90" fill="#fff" stroke="#000" stroke-width="0.9" />
<line x1="231.78" y1="278.96" x2="231.78" y2="287.60" stroke="#000" stroke-width="0.8" />
<line x1="230.28" y1="287.60" x2="233.28" y2="287.60" stroke="#000" stroke-width="0.8" />
<line x1="215.62" y1="291.58" x2="215.62" y2="295.59" stroke="#000" stroke-width="0.8" />
<line x1="214.12" y1="295.59" x2="217.12" y2="295.59" stroke="#000" stroke-width="0.8" />
<line x1="191.38" y1="303.89" x2="191.38" y2="297.72" stroke="#000" stroke-width="0.8" />
<line x1="189.88" y1="297.72" x2="192.88" y2="297.72" stroke="#000" stroke-width="0.8" />
<line x1="191.38" y1="303.89" x2="191.38" y2="309.75" stroke="#000" stroke-width="0.8" />
<line x1="189.88" y1="309.75" x2="192.88" y2="309.75" stroke="#000" stroke-width="0.8" />
<line x1="167.14" y1="323.57" x2="167.14" y2="319.87" stroke="#000" stroke-width="0.8" />
<line x1="165.64" y1="319.87" x2="168.64" y2="319.87" stroke="#000" stroke-width="0.8" />
<line x1="167.14" y1="323.57" x2="167.14" y2="328.20" stroke="#000" stroke-width="0.8" />
<line x1="165.64" y1="328.20" x2="168.64" y2="328.20" stroke="#000" stroke-width="0.8" />
<polyline points="102.50,356.95 134.82,341.12 167.14,323.57 191.38,303.89 215.62,291.58 231.78,278.96" fill="none" stroke="#111" stroke-width="0.95"/>
<circle cx="134.82" cy="341.12" r="2.60" fill="#000" stroke="#000" stroke-width="0.9"/>
<circle cx="167.14" cy="323.57" r="2.60" fill="#000" stroke="#000" stroke-width="0.9"/>
<circle cx="191.38" cy="303.89" r="2.60" fill="#000" stroke="#000" stroke-width="0.9"/>
<circle cx="215.62" cy="291.58" r="2.60" fill="#000" stroke="#000" stroke-width="0.9"/>
<circle cx="231.78" cy="278.96" r="2.60" fill="#000" stroke="#000" stroke-width="0.9"/>
<line x1="231.78" y1="324.80" x2="231.78" y2="320.79" stroke="#000" stroke-width="0.8" />
<line x1="230.28" y1="320.79" x2="233.28" y2="320.79" stroke="#000" stroke-width="0.8" />
<line x1="191.38" y1="340.51" x2="191.38" y2="338.04" stroke="#000" stroke-width="0.8" />
<line x1="189.88" y1="338.04" x2="192.88" y2="338.04" stroke="#000" stroke-width="0.8" />
<polyline points="102.50,356.95 134.82,359.29 167.14,351.58 191.38,340.51 215.62,330.36 231.78,324.80" fill="none" stroke="#111" stroke-width="0.9"/>
<rect x="132.37" y="356.84" width="4.90" height="4.90" fill="#000" stroke="#000" stroke-width="0.9" />
<rect x="164.69" y="349.13" width="4.90" height="4.90" fill="#000" stroke="#000" stroke-width="0.9" />
<rect x="188.93" y="338.06" width="4.90" height="4.90" fill="#000" stroke="#000" stroke-width="0.9" />
<rect x="213.17" y="327.91" width="4.90" height="4.90" fill="#000" stroke="#000" stroke-width="0.9" />
<rect x="229.33" y="322.35" width="4.90" height="4.90" fill="#000" stroke="#000" stroke-width="0.9" />
<polyline points="102.50,356.95 134.82,366.82 167.14,364.82 191.38,361.42 215.62,354.67 231.78,352.20" fill="none" stroke="#111" stroke-width="0.9"/>
<circle cx="102.50" cy="356.95" r="2.45" fill="#fff" stroke="#000" stroke-width="0.9"/>
<circle cx="134.82" cy="366.82" r="2.45" fill="#fff" stroke="#000" stroke-width="0.9"/>
<circle cx="167.14" cy="364.82" r="2.45" fill="#fff" stroke="#000" stroke-width="0.9"/>
<circle cx="191.38" cy="361.42" r="2.45" fill="#fff" stroke="#000" stroke-width="0.9"/>
<circle cx="215.62" cy="354.67" r="2.45" fill="#fff" stroke="#000" stroke-width="0.9"/>
<circle cx="231.78" cy="352.20" r="2.45" fill="#fff" stroke="#000" stroke-width="0.9"/>
<text x="174.50" y="407.60" font-size="7.2" text-anchor="middle" fill="#000" font-weight="bold" stroke="#000" stroke-width="0.22" >Days</text>
<text x="73.00" y="324.90" font-size="7.3" font-weight="bold" stroke="#000" stroke-width="0.22" text-anchor="middle" textLength="112.00" lengthAdjust="spacingAndGlyphs" transform="rotate(-90 73.00 324.90)">Relative tumor volume of HCC70</text>
<text x="83.00" y="325.00" font-size="7.4" font-weight="bold" stroke="#000" stroke-width="0.22" text-anchor="middle" textLength="120.10" lengthAdjust="spacingAndGlyphs" transform="rotate(-90 83.00 325.00)">(mean TV at day 0 = 0.206 cm<tspan dy="-2.4" font-size="5">3</tspan><tspan dy="2.4"> = 1)</tspan></text>
<rect x="102.90" y="248.00" width="106.60" height="43.20" fill="#fff" stroke="#808080" stroke-width="1.1" />
<line x1="105.00" y1="253.70" x2="117.60" y2="253.70" stroke="#000" stroke-width="0.8" />
<rect x="110.25" y="252.35" width="2.70" height="2.70" fill="#fff" stroke="#000" stroke-width="0.8" />
<text x="119.30" y="255.70" font-size="5.66" text-anchor="start" fill="#000" font-weight="bold" stroke="#000" stroke-width="0.22" xml:space="preserve">Combination vehicle control</text>
<line x1="105.00" y1="264.60" x2="117.60" y2="264.60" stroke="#000" stroke-width="0.8" />
<circle cx="111.60" cy="264.60" r="1.50" fill="#000" stroke="#000" stroke-width="0.8"/>
<text x="119.30" y="266.60" font-size="5.66" text-anchor="start" fill="#000" font-weight="bold" stroke="#000" stroke-width="0.22" textLength="59.50" lengthAdjust="spacingAndGlyphs" xml:space="preserve">Lapatinib  100 mg/kg/d</text>
<line x1="105.00" y1="275.50" x2="117.60" y2="275.50" stroke="#000" stroke-width="0.8" />
<rect x="110.15" y="274.05" width="2.90" height="2.90" fill="#000" stroke="#000" stroke-width="0.8" />
<text x="119.30" y="277.50" font-size="5.66" text-anchor="start" fill="#000" font-weight="bold" stroke="#000" stroke-width="0.22" xml:space="preserve">MK-2206 120 mg/kg/d</text>
<line x1="105.00" y1="286.30" x2="117.60" y2="286.30" stroke="#000" stroke-width="0.8" />
<circle cx="111.60" cy="286.30" r="1.50" fill="#fff" stroke="#000" stroke-width="0.8"/>
<text x="119.30" y="288.30" font-size="5.66" text-anchor="start" fill="#000" font-weight="bold" stroke="#000" stroke-width="0.22" xml:space="preserve">Lapatinib + MK-2206 120 mg/kg/d</text>
<text x="60.00" y="422.20" font-size="7.4" text-anchor="start" fill="#000" >MK-2206</text>
<text x="61.80" y="434.00" font-size="7.2" text-anchor="start" fill="#000" >Lapatinib</text>
<polygon points="103.20,416.40 106.50,422.40 99.90,422.40" fill="#000" stroke="none" stroke-width="1"/>
<polygon points="118.00,416.40 121.30,422.40 114.70,422.40" fill="#000" stroke="none" stroke-width="1"/>
<polygon points="132.80,416.40 136.10,422.40 129.50,422.40" fill="#000" stroke="none" stroke-width="1"/>
<polygon points="158.80,416.40 162.10,422.40 155.50,422.40" fill="#000" stroke="none" stroke-width="1"/>
<polygon points="174.50,416.40 177.80,422.40 171.20,422.40" fill="#000" stroke="none" stroke-width="1"/>
<polygon points="190.00,416.40 193.30,422.40 186.70,422.40" fill="#000" stroke="none" stroke-width="1"/>
<polygon points="216.30,416.40 219.60,422.40 213.00,422.40" fill="#000" stroke="none" stroke-width="1"/>
<polygon points="233.30,416.40 236.60,422.40 230.00,422.40" fill="#000" stroke="none" stroke-width="1"/>
<line x1="101.30" y1="432.00" x2="132.80" y2="432.00" stroke="#000" stroke-width="1.0" />
<polygon points="100.80,432.00 104.80,429.80 103.80,432.00 104.80,434.20" fill="#000" stroke="none" stroke-width="1"/>
<polygon points="133.30,432.00 129.30,429.80 130.30,432.00 129.30,434.20" fill="#000" stroke="none" stroke-width="1"/>
<line x1="156.80" y1="432.00" x2="190.30" y2="432.00" stroke="#000" stroke-width="1.0" />
<polygon points="156.30,432.00 160.30,429.80 159.30,432.00 160.30,434.20" fill="#000" stroke="none" stroke-width="1"/>
<polygon points="190.80,432.00 186.80,429.80 187.80,432.00 186.80,434.20" fill="#000" stroke="none" stroke-width="1"/>
<line x1="212.50" y1="432.00" x2="238.30" y2="432.00" stroke="#000" stroke-width="1.0" />
<polygon points="212.00,432.00 216.00,429.80 215.00,432.00 216.00,434.20" fill="#000" stroke="none" stroke-width="1"/>
<polygon points="238.80,432.00 234.80,429.80 235.80,432.00 234.80,434.20" fill="#000" stroke="none" stroke-width="1"/>
<text x="296.40" y="256.70" font-size="13.2" text-anchor="start" fill="#000" font-weight="bold" stroke="#000" stroke-width="0.22" >D</text>
<line x1="342.40" y1="250.30" x2="342.40" y2="392.20" stroke="#333" stroke-width="0.85" />
<line x1="342.40" y1="392.20" x2="489.27" y2="392.20" stroke="#333" stroke-width="0.85" />
<line x1="340.40" y1="392.20" x2="342.40" y2="392.20" stroke="#222" stroke-width="0.8" />
<text x="338.60" y="394.90" font-size="7.4" text-anchor="end" fill="#000" font-weight="bold" stroke="#000" stroke-width="0.22" >0</text>
<line x1="340.40" y1="363.82" x2="342.40" y2="363.82" stroke="#222" stroke-width="0.8" />
<text x="338.60" y="366.52" font-size="7.4" text-anchor="end" fill="#000" font-weight="bold" stroke="#000" stroke-width="0.22" >1</text>
<line x1="340.40" y1="335.44" x2="342.40" y2="335.44" stroke="#222" stroke-width="0.8" />
<text x="338.60" y="338.14" font-size="7.4" text-anchor="end" fill="#000" font-weight="bold" stroke="#000" stroke-width="0.22" >2</text>
<line x1="340.40" y1="307.06" x2="342.40" y2="307.06" stroke="#222" stroke-width="0.8" />
<text x="338.60" y="309.76" font-size="7.4" text-anchor="end" fill="#000" font-weight="bold" stroke="#000" stroke-width="0.22" >3</text>
<line x1="340.40" y1="278.68" x2="342.40" y2="278.68" stroke="#222" stroke-width="0.8" />
<text x="338.60" y="281.38" font-size="7.4" text-anchor="end" fill="#000" font-weight="bold" stroke="#000" stroke-width="0.22" >4</text>
<line x1="340.40" y1="250.30" x2="342.40" y2="250.30" stroke="#222" stroke-width="0.8" />
<text x="338.60" y="253.00" font-size="7.4" text-anchor="end" fill="#000" font-weight="bold" stroke="#000" stroke-width="0.22" >5</text>
<line x1="342.40" y1="392.20" x2="342.40" y2="394.20" stroke="#222" stroke-width="0.8" />
<text x="342.40" y="401.50" font-size="7.4" text-anchor="middle" fill="#000" font-weight="bold" stroke="#000" stroke-width="0.22" >0</text>
<line x1="381.05" y1="392.20" x2="381.05" y2="394.20" stroke="#222" stroke-width="0.8" />
<text x="381.05" y="401.50" font-size="7.4" text-anchor="middle" fill="#000" font-weight="bold" stroke="#000" stroke-width="0.22" >5</text>
<line x1="419.70" y1="392.20" x2="419.70" y2="394.20" stroke="#222" stroke-width="0.8" />
<text x="419.70" y="401.50" font-size="7.4" text-anchor="middle" fill="#000" font-weight="bold" stroke="#000" stroke-width="0.22" >10</text>
<line x1="458.35" y1="392.20" x2="458.35" y2="394.20" stroke="#222" stroke-width="0.8" />
<text x="458.35" y="401.50" font-size="7.4" text-anchor="middle" fill="#000" font-weight="bold" stroke="#000" stroke-width="0.22" >15</text>
<line x1="473.81" y1="263.24" x2="473.81" y2="258.42" stroke="#000" stroke-width="0.8" />
<line x1="472.31" y1="258.42" x2="475.31" y2="258.42" stroke="#000" stroke-width="0.8" />
<line x1="458.35" y1="289.04" x2="458.35" y2="285.63" stroke="#000" stroke-width="0.8" />
<line x1="456.85" y1="285.63" x2="459.85" y2="285.63" stroke="#000" stroke-width="0.8" />
<polyline points="342.40,363.82 373.32,352.81 404.24,334.11 427.43,313.56 458.35,289.04 473.81,263.24" fill="none" stroke="#111" stroke-width="0.9"/>
<rect x="370.82" y="350.31" width="5.00" height="5.00" fill="#fff" stroke="#000" stroke-width="0.9" />
<rect x="401.74" y="331.61" width="5.00" height="5.00" fill="#fff" stroke="#000" stroke-width="0.9" />
<rect x="424.93" y="311.06" width="5.00" height="5.00" fill="#fff" stroke="#000" stroke-width="0.9" />
<rect x="455.85" y="286.54" width="5.00" height="5.00" fill="#fff" stroke="#000" stroke-width="0.9" />
<rect x="471.31" y="260.74" width="5.00" height="5.00" fill="#fff" stroke="#000" stroke-width="0.9" />
<line x1="473.81" y1="305.36" x2="473.81" y2="298.26" stroke="#000" stroke-width="0.8" />
<line x1="472.31" y1="298.26" x2="475.31" y2="298.26" stroke="#000" stroke-width="0.8" />
<line x1="458.35" y1="317.79" x2="458.35" y2="314.38" stroke="#000" stroke-width="0.8" />
<line x1="456.85" y1="314.38" x2="459.85" y2="314.38" stroke="#000" stroke-width="0.8" />
<polyline points="342.40,363.82 373.32,359.42 404.24,350.99 427.43,340.29 458.35,317.79 473.81,305.36" fill="none" stroke="#111" stroke-width="0.9"/>
<circle cx="373.32" cy="359.42" r="2.50" fill="#000" stroke="#000" stroke-width="0.9"/>
<circle cx="404.24" cy="350.99" r="2.50" fill="#000" stroke="#000" stroke-width="0.9"/>
<circle cx="427.43" cy="340.29" r="2.50" fill="#000" stroke="#000" stroke-width="0.9"/>
<circle cx="458.35" cy="317.79" r="2.50" fill="#000" stroke="#000" stroke-width="0.9"/>
<circle cx="473.81" cy="305.36" r="2.50" fill="#000" stroke="#000" stroke-width="0.9"/>
<line x1="473.81" y1="309.87" x2="473.81" y2="315.55" stroke="#000" stroke-width="0.8" />
<line x1="472.31" y1="315.55" x2="475.31" y2="315.55" stroke="#000" stroke-width="0.8" />
<polyline points="342.40,363.82 373.32,358.85 404.24,352.38 427.43,335.78 458.35,320.29 473.81,309.87" fill="none" stroke="#111" stroke-width="0.9"/>
<rect x="370.82" y="356.35" width="5.00" height="5.00" fill="#d2d2d2" stroke="#000" stroke-width="0.9" />
<rect x="401.74" y="349.88" width="5.00" height="5.00" fill="#d2d2d2" stroke="#000" stroke-width="0.9" />
<rect x="424.93" y="333.28" width="5.00" height="5.00" fill="#d2d2d2" stroke="#000" stroke-width="0.9" />
<rect x="455.85" y="317.79" width="5.00" height="5.00" fill="#d2d2d2" stroke="#000" stroke-width="0.9" />
<rect x="471.31" y="307.37" width="5.00" height="5.00" fill="#d2d2d2" stroke="#000" stroke-width="0.9" />
<polyline points="342.40,363.82 373.32,369.55 404.24,367.06 427.43,367.06 458.35,356.04 473.81,346.05" fill="none" stroke="#111" stroke-width="0.9"/>
<circle cx="373.32" cy="369.55" r="2.50" fill="#d2d2d2" stroke="#000" stroke-width="0.9"/>
<circle cx="404.24" cy="367.06" r="2.50" fill="#d2d2d2" stroke="#000" stroke-width="0.9"/>
<circle cx="427.43" cy="367.06" r="2.50" fill="#d2d2d2" stroke="#000" stroke-width="0.9"/>
<circle cx="458.35" cy="356.04" r="2.50" fill="#d2d2d2" stroke="#000" stroke-width="0.9"/>
<circle cx="473.81" cy="346.05" r="2.50" fill="#d2d2d2" stroke="#000" stroke-width="0.9"/>
<line x1="473.81" y1="320.29" x2="473.81" y2="324.54" stroke="#000" stroke-width="0.8" />
<line x1="472.31" y1="324.54" x2="475.31" y2="324.54" stroke="#000" stroke-width="0.8" />
<polyline points="342.40,363.82 373.32,362.26 404.24,356.61 427.43,350.42 458.35,334.96 473.81,320.29" fill="none" stroke="#111" stroke-width="0.9"/>
<rect x="370.82" y="359.76" width="5.00" height="5.00" fill="#000" stroke="#000" stroke-width="0.9" />
<rect x="401.74" y="354.11" width="5.00" height="5.00" fill="#000" stroke="#000" stroke-width="0.9" />
<rect x="424.93" y="347.92" width="5.00" height="5.00" fill="#000" stroke="#000" stroke-width="0.9" />
<rect x="455.85" y="332.46" width="5.00" height="5.00" fill="#000" stroke="#000" stroke-width="0.9" />
<rect x="471.31" y="317.79" width="5.00" height="5.00" fill="#000" stroke="#000" stroke-width="0.9" />
<polyline points="342.40,363.82 373.32,375.20 404.24,374.63 427.43,376.59 458.35,371.54 473.81,367.06" fill="none" stroke="#111" stroke-width="0.9"/>
<circle cx="342.40" cy="363.82" r="2.50" fill="#fff" stroke="#000" stroke-width="0.9"/>
<circle cx="373.32" cy="375.20" r="2.50" fill="#fff" stroke="#000" stroke-width="0.9"/>
<circle cx="404.24" cy="374.63" r="2.50" fill="#fff" stroke="#000" stroke-width="0.9"/>
<circle cx="427.43" cy="376.59" r="2.50" fill="#fff" stroke="#000" stroke-width="0.9"/>
<circle cx="458.35" cy="371.54" r="2.50" fill="#fff" stroke="#000" stroke-width="0.9"/>
<circle cx="473.81" cy="367.06" r="2.50" fill="#fff" stroke="#000" stroke-width="0.9"/>
<text x="415.80" y="410.70" font-size="7.2" text-anchor="middle" fill="#000" font-weight="bold" stroke="#000" stroke-width="0.22" >Days</text>
<text x="317.20" y="321.20" font-size="7.3" font-weight="bold" stroke="#000" stroke-width="0.22" text-anchor="middle" textLength="112.30" lengthAdjust="spacingAndGlyphs" transform="rotate(-90 317.20 321.20)">Relative tumor volume of SKOV3</text>
<text x="325.60" y="320.60" font-size="7.4" font-weight="bold" stroke="#000" stroke-width="0.22" text-anchor="middle" textLength="120.00" lengthAdjust="spacingAndGlyphs" transform="rotate(-90 325.60 320.60)">(mean TV at day 0 = 0.127 cm<tspan dy="-2.4" font-size="5">3</tspan><tspan dy="2.4"> = 1)</tspan></text>
<rect x="343.40" y="250.10" width="106.70" height="42.30" fill="#fff" stroke="#808080" stroke-width="1" />
<line x1="345.50" y1="254.30" x2="357.50" y2="254.30" stroke="#000" stroke-width="0.8" />
<rect x="349.80" y="252.80" width="3.00" height="3.00" fill="#fff" stroke="#000" stroke-width="0.8" />
<text x="359.30" y="256.40" font-size="5.74" text-anchor="start" fill="#000" font-weight="bold" stroke="#000" stroke-width="0.22" >Combination vehicle control</text>
<line x1="345.50" y1="260.70" x2="357.50" y2="260.70" stroke="#000" stroke-width="0.8" />
<circle cx="351.30" cy="260.70" r="1.70" fill="#000" stroke="#000" stroke-width="0.8"/>
<text x="359.30" y="262.80" font-size="5.74" text-anchor="start" fill="#000" font-weight="bold" stroke="#000" stroke-width="0.22" >Lapatinib 100 mg/kg/d</text>
<line x1="345.50" y1="267.70" x2="357.50" y2="267.70" stroke="#000" stroke-width="0.8" />
<rect x="349.80" y="266.20" width="3.00" height="3.00" fill="#d2d2d2" stroke="#000" stroke-width="0.8" />
<text x="359.30" y="269.80" font-size="5.74" text-anchor="start" fill="#000" font-weight="bold" stroke="#000" stroke-width="0.22" >MK-2206 60 mg/kg/d</text>
<line x1="345.50" y1="274.20" x2="357.50" y2="274.20" stroke="#000" stroke-width="0.8" />
<circle cx="351.30" cy="274.20" r="1.70" fill="#d2d2d2" stroke="#000" stroke-width="0.8"/>
<text x="359.30" y="276.30" font-size="5.74" text-anchor="start" fill="#000" font-weight="bold" stroke="#000" stroke-width="0.22" >Lapatinib + MK-2206 60 mg/kg/d</text>
<line x1="345.50" y1="281.20" x2="357.50" y2="281.20" stroke="#000" stroke-width="0.8" />
<rect x="349.70" y="279.60" width="3.20" height="3.20" fill="#000" stroke="#000" stroke-width="0.8" />
<text x="359.30" y="283.30" font-size="5.74" text-anchor="start" fill="#000" font-weight="bold" stroke="#000" stroke-width="0.22" >MK-2206 120 mg/kg/d</text>
<line x1="345.50" y1="288.00" x2="357.50" y2="288.00" stroke="#000" stroke-width="0.8" />
<circle cx="351.30" cy="288.00" r="1.70" fill="#fff" stroke="#000" stroke-width="0.8"/>
<text x="359.30" y="290.10" font-size="5.74" text-anchor="start" fill="#000" font-weight="bold" stroke="#000" stroke-width="0.22" >Lapatinib + MK-2206 120 mg/kg/d</text>
<text x="303.80" y="422.20" font-size="7.2" text-anchor="start" fill="#000" >MK-2206</text>
<text x="304.30" y="434.00" font-size="7.25" text-anchor="start" fill="#000" >Lapatinib</text>
<polygon points="343.80,417.40 346.75,422.40 340.85,422.40" fill="#000" stroke="none" stroke-width="1"/>
<polygon points="358.30,417.40 361.25,422.40 355.35,422.40" fill="#000" stroke="none" stroke-width="1"/>
<polygon points="371.80,417.40 374.75,422.40 368.85,422.40" fill="#000" stroke="none" stroke-width="1"/>
<polygon points="395.60,417.40 398.55,422.40 392.65,422.40" fill="#000" stroke="none" stroke-width="1"/>
<polygon points="410.60,417.40 413.55,422.40 407.65,422.40" fill="#000" stroke="none" stroke-width="1"/>
<polygon points="425.80,417.40 428.75,422.40 422.85,422.40" fill="#000" stroke="none" stroke-width="1"/>
<line x1="342.30" y1="431.60" x2="372.00" y2="431.60" stroke="#000" stroke-width="1.0" />
<polygon points="341.80,431.60 345.80,429.40 344.80,431.60 345.80,433.80" fill="#000" stroke="none" stroke-width="1"/>
<polygon points="372.50,431.60 368.50,429.40 369.50,431.60 368.50,433.80" fill="#000" stroke="none" stroke-width="1"/>
<line x1="394.30" y1="431.60" x2="423.80" y2="431.60" stroke="#000" stroke-width="1.0" />
<polygon points="393.80,431.60 397.80,429.40 396.80,431.60 397.80,433.80" fill="#000" stroke="none" stroke-width="1"/>
<polygon points="424.30,431.60 420.30,429.40 421.30,431.60 420.30,433.80" fill="#000" stroke="none" stroke-width="1"/>
</svg>
<div id="frame"></div>
</body></html>
